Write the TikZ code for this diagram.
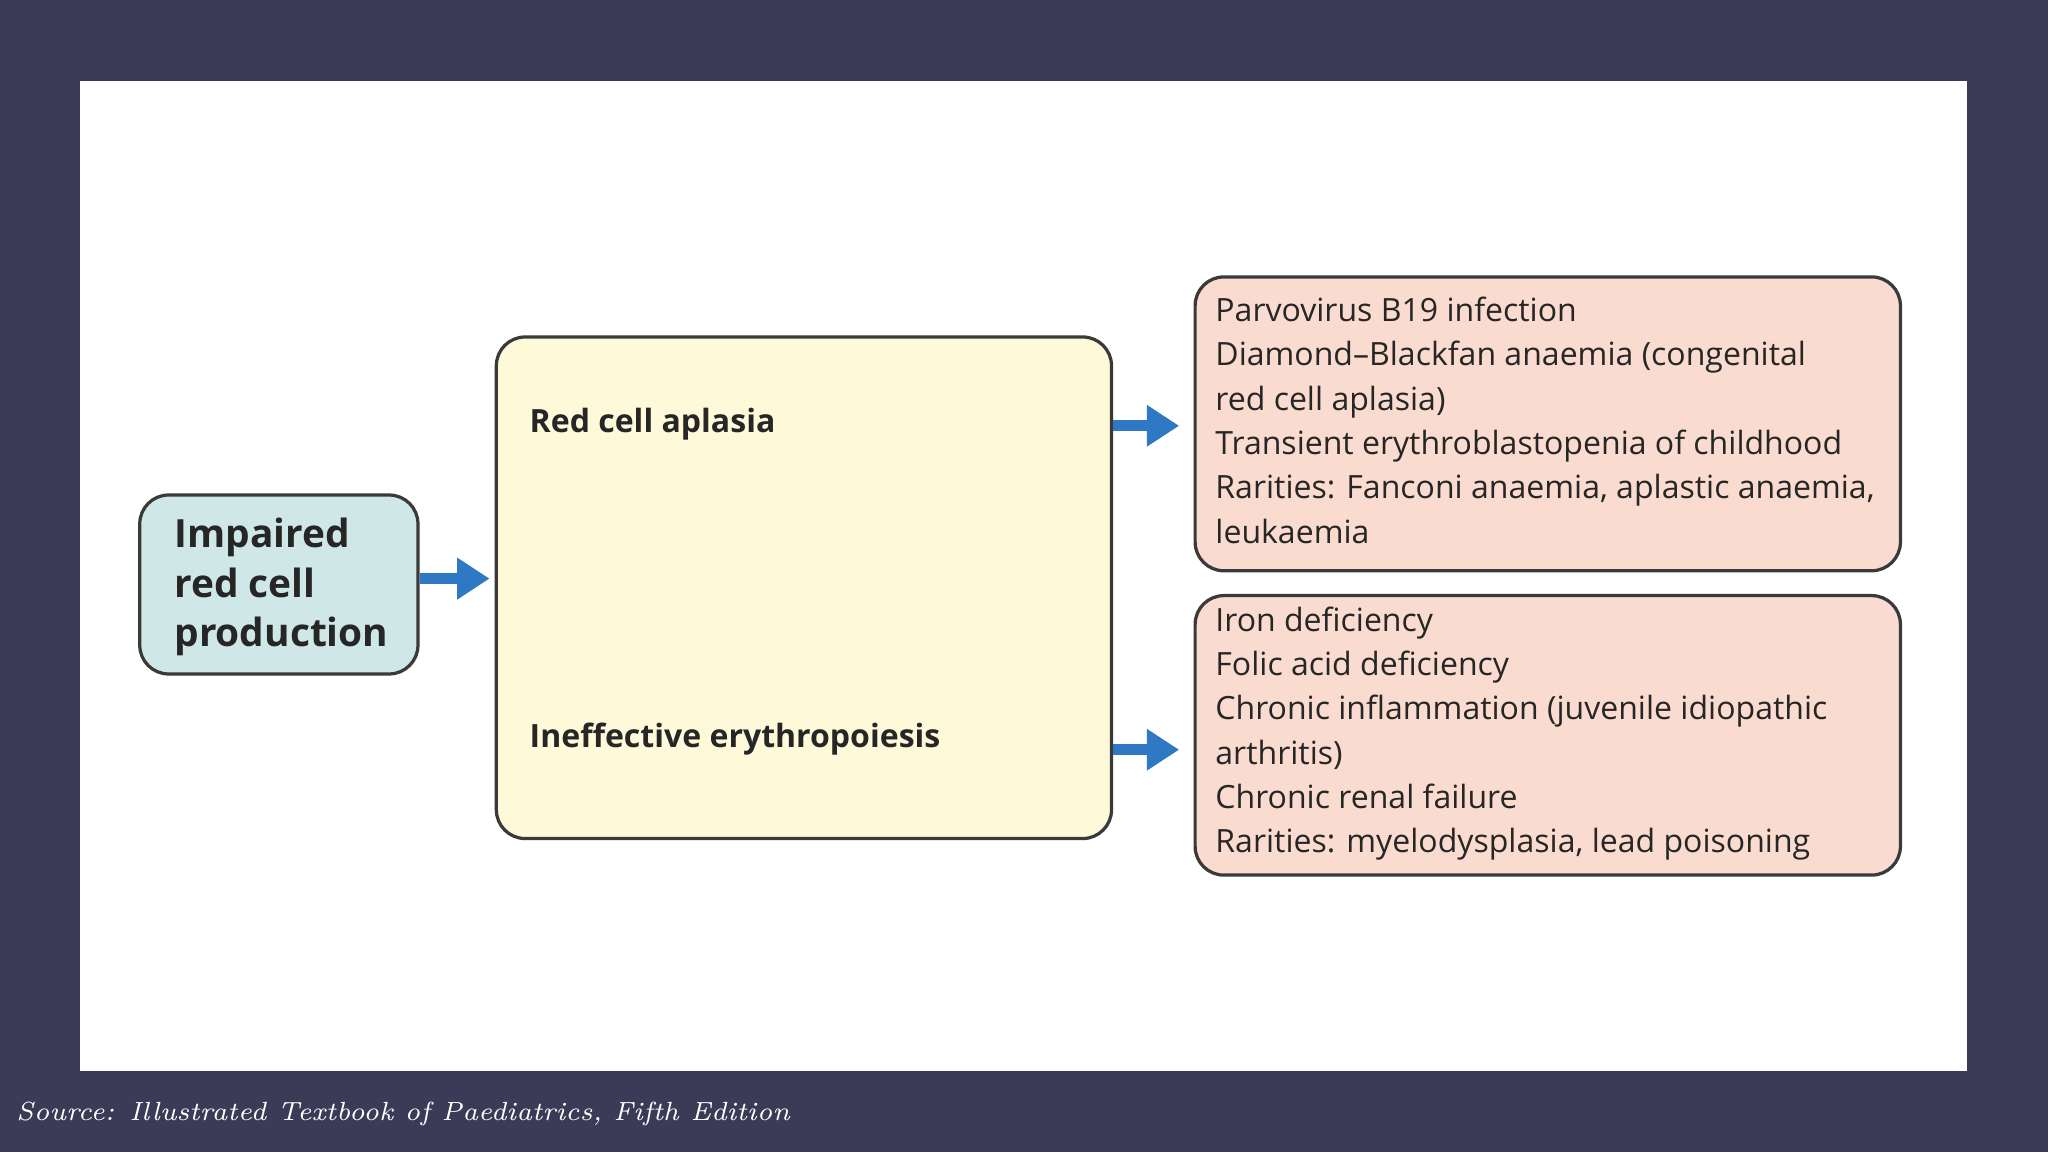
\documentclass[tikz,border=0pt]{standalone}
\usepackage{fontspec}
\setmainfont{Open Sans}
\newfontfamily\srcfont{Latin Modern Roman}
\usetikzlibrary{arrows.meta}
\definecolor{bgnavy}{HTML}{3B3B58}
\definecolor{tealbox}{HTML}{CFE8E7}
\definecolor{yelbox}{HTML}{FDF9D9}
\definecolor{peachbox}{HTML}{FADBCF}
\definecolor{arrblue}{HTML}{2F78C4}
\definecolor{edgegray}{HTML}{3A3A3A}
\tikzset{
  box/.style={draw=edgegray, line width=0.9pt, rounded corners=8pt},
  txt/.style={anchor=north west, align=left, inner sep=0pt, text=black!85},
  barrow/.style={draw=arrblue, line width=3pt, -{Triangle[length=9pt,width=11pt]}},
}
\begin{document}
\begin{tikzpicture}[x=0.012755cm,y=-0.012755cm]
\fill[bgnavy] (0,0) rectangle (1568,882);
\useasboundingbox (0,0) rectangle (1568,882);
\fill[white] (61,62) rectangle (1506,820);
\node[box, fill=tealbox, minimum width=213*0.012755cm, minimum height=137*0.012755cm] (imp) at (213.5,447.5) {};
\node[box, fill=yelbox, minimum width=471*0.012755cm, minimum height=384*0.012755cm] (mid) at (615.5,450) {};
\node[box, fill=peachbox, minimum width=540*0.012755cm, minimum height=225*0.012755cm] (top) at (1185,324.5) {};
\node[box, fill=peachbox, minimum width=540*0.012755cm, minimum height=214*0.012755cm] (bot) at (1185,563) {};
\node[txt, font=\fontsize{10.8}{13.8}\selectfont\bfseries] (impt) at (133,396) {Impaired\\red cell\\production};
\node[txt, font=\fontsize{8.9}{12}\selectfont\bfseries] (rca) at (405,312) {Red cell aplasia};
\node[txt, font=\fontsize{8.9}{12}\selectfont\bfseries] (ine) at (405,553) {Ineffective erythropoiesis};
\node[txt, font=\fontsize{8.9}{12.3}\selectfont] (topt) at (930,227) {Parvovirus B19 infection\\Diamond--Blackfan anaemia (congenital\\red cell aplasia)\\Transient erythroblastopenia of childhood\\Rarities: Fanconi anaemia, aplastic anaemia,\\leukaemia};
\node[txt, font=\fontsize{8.9}{12.3}\selectfont] (bott) at (930,464) {Iron deficiency\\Folic acid deficiency\\Chronic inflammation (juvenile idiopathic\\arthritis)\\Chronic renal failure\\Rarities: myelodysplasia, lead poisoning};
\coordinate (a0) at (imp.east |- 443,443);
\draw[barrow] (a0) -- ([xshift=-0.05cm]mid.west |- a0);
\coordinate (a1) at (mid.east |- 326,326);
\coordinate (a2) at (mid.east |- 574,574);
\draw[barrow] (a1) -- ([xshift=-0.14cm]top.west |- a1);
\draw[barrow] (a2) -- ([xshift=-0.14cm]bot.west |- a2);
\node[anchor=base west, inner sep=0pt, text=white, font=\srcfont\itshape\fontsize{7.3}{9}\selectfont] (src) at (12,858) {Source: Illustrated Textbook of Paediatrics, Fifth Edition};
\end{tikzpicture}
\end{document}
